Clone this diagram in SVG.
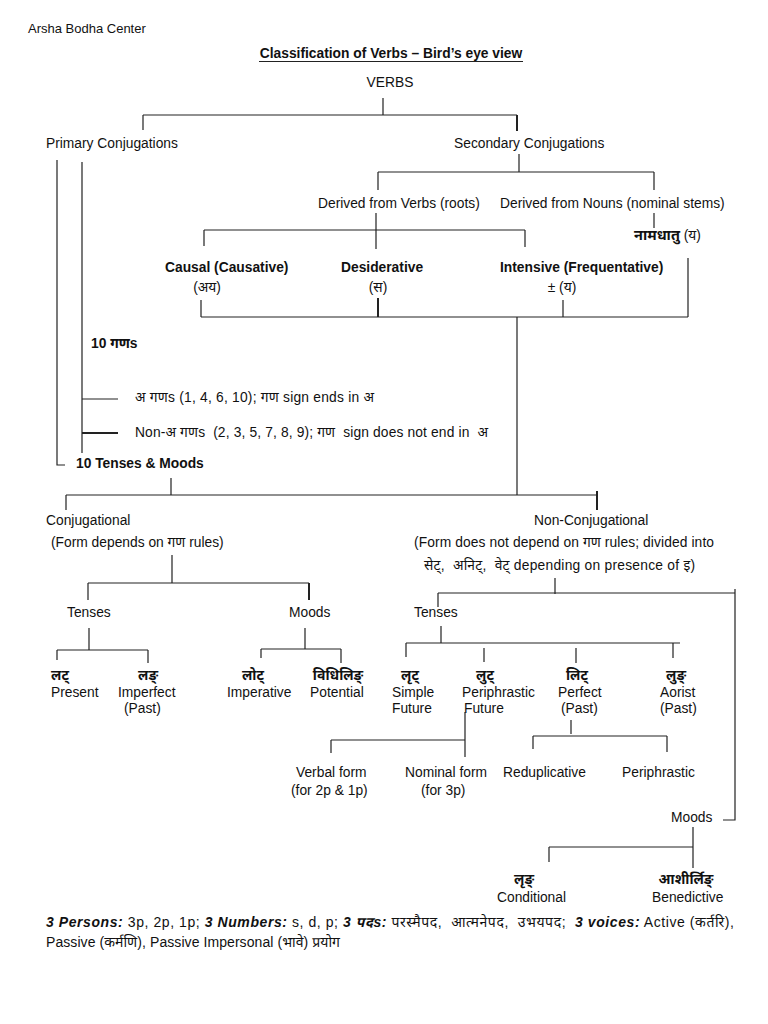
<svg xmlns="http://www.w3.org/2000/svg" width="768" height="1024" viewBox="0 0 768 1024">
<style>
text{font-family:"Liberation Sans","Noto Sans Devanagari","Noto Sans",sans-serif;font-size:13.8px;fill:#111;white-space:pre}
.b{font-weight:bold}
.bi{font-weight:bold;font-style:italic}
.m{text-anchor:middle}
.dv{font-weight:bold;font-size:14px;text-anchor:middle}
.ft{font-size:14px}
.ln{fill:none;stroke:#222;stroke-width:1.2}
.th{fill:none;stroke:#222;stroke-width:2}
</style>
<rect width="768" height="1024" fill="#fff"/>
<g id="header">
<text x="28" y="33" style="font-size:13px">Arsha Bodha Center</text>
<text x="391" y="58" class="b m">Classification of Verbs – Bird’s eye view</text>
<path class="ln" d="M259,61.5 H523"/>
</g>
<g id="connectors">
<path class="ln" d="M383,98 V115 M143,115 H517 M143,115 V130"/>
<path class="th" d="M517,115 V131"/>
<path class="ln" d="M519,154 V172 M378,172 H654 M378,172 V190 M654,172 V190"/>
<path class="ln" d="M376,213 V249 M204,230 H525 M204,230 V246 M525,230 V247"/>
<path class="ln" d="M654,213 V228"/>
<path class="ln" d="M201,317 H688 M201,300 V317 M563,300 V317 M688,258 V317 M517,317 V495"/>
<path class="th" d="M378,298 V317"/>
<path class="ln" d="M57,160 V465 H65 M82,162 V453 M82,399 H118"/>
<path class="th" d="M82,433 H118"/>
<path class="ln" d="M171,478 V495 M66,495 H597 M66,495 V510"/>
<path class="th" d="M597,491 V510"/>
<path class="ln" d="M172,555 V583 M88,583 H309 M88,583 V600"/>
<path class="th" d="M309,583 V600"/>
<path class="ln" d="M555,578 V594 M438,593 H735 M438,593 V607 M735,589 V820 H723"/>
<path class="ln" d="M89,628 V650 M57,650 H148 M57,650 V660 M148,650 V663"/>
<path class="ln" d="M305,628 V649 M261,649 H341 M261,649 V658 M341,649 V663"/>
<path class="ln" d="M441,626 V643 M406,643 H680 M406,643 V657 M484,648 V662 M576,648 V663 M673,643 V658"/>
<path class="ln" d="M465,712 V757 M331,740 H465 M331,740 V753"/>
<path class="ln" d="M571,720 V734 M533,736 H667 M533,736 V749 M667,736 V752"/>
<path class="ln" d="M693,827 V868 M549,847 H693 M549,847 V862"/>
</g>
<g id="verbs"><text x="390" y="87" class="m">VERBS</text></g>
<g id="primary"><text x="46" y="148">Primary Conjugations</text></g>
<g id="secondary"><text x="454" y="148">Secondary Conjugations</text></g>
<g id="derived-verbs"><text x="318" y="208">Derived from Verbs (roots)</text></g>
<g id="derived-nouns"><text x="500" y="208">Derived from Nouns (nominal stems)</text></g>
<g id="namadhatu"><text x="634" y="240"><tspan class="b" style="font-size:14.5px">नामधातु</tspan> (य)</text></g>
<g id="causal"><text x="165" y="272" class="b">Causal (Causative)</text><text x="207" y="292" class="m">(अय)</text></g>
<g id="desiderative"><text x="341" y="272" class="b">Desiderative</text><text x="378" y="292" class="m">(स)</text></g>
<g id="intensive"><text x="500" y="272" class="b">Intensive (Frequentative)</text><text x="562" y="292" class="m">± (य)</text></g>
<g id="ganas"><text x="91" y="348" class="b">10 गणs</text></g>
<g id="a-ganas"><text x="135" y="402" textLength="239" lengthAdjust="spacing">अ गणs (1, 4, 6, 10); गण sign ends in अ</text></g>
<g id="non-a-ganas"><text x="135" y="437" textLength="353" lengthAdjust="spacing">Non-अ गणs  (2, 3, 5, 7, 8, 9); गण  sign does not end in  अ</text></g>
<g id="tenses-moods"><text x="76" y="468" class="b">10 Tenses &amp; Moods</text></g>
<g id="conjugational"><text x="46" y="525">Conjugational</text><text x="51" y="547">(Form depends on गण rules)</text></g>
<g id="non-conjugational"><text x="534" y="525">Non-Conjugational</text><text x="414" y="547" textLength="300" lengthAdjust="spacing">(Form does not depend on गण rules; divided into</text><text x="424" y="570" textLength="271" lengthAdjust="spacing">सेट्,  अनिट्,  वेट् depending on presence of इ)</text></g>
<g id="conj-tenses"><text x="67" y="617">Tenses</text></g>
<g id="conj-moods"><text x="289" y="617">Moods</text></g>
<g id="nonconj-tenses"><text x="414" y="617">Tenses</text></g>
<g id="lat"><text x="60" y="680" class="dv">लट्</text><text x="51" y="697">Present</text></g>
<g id="lan"><text x="148" y="680" class="dv">लङ्</text><text x="118" y="697">Imperfect</text><text x="124" y="713">(Past)</text></g>
<g id="lot"><text x="253" y="680" class="dv">लोट्</text><text x="227" y="697">Imperative</text></g>
<g id="vidhilin"><text x="338" y="680" class="dv">विधिलिङ्</text><text x="310" y="697">Potential</text></g>
<g id="lrt"><text x="410" y="680" class="dv">लृट्</text><text x="392" y="697">Simple</text><text x="392" y="713">Future</text></g>
<g id="lut"><text x="485" y="680" class="dv">लुट्</text><text x="462" y="697">Periphrastic</text><text x="464" y="713">Future</text></g>
<g id="lit"><text x="577" y="680" class="dv">लिट्</text><text x="558" y="697">Perfect</text><text x="561" y="713">(Past)</text></g>
<g id="lun"><text x="676" y="680" class="dv">लुङ्</text><text x="660" y="697">Aorist</text><text x="660" y="713">(Past)</text></g>
<g id="verbal-form"><text x="296" y="777">Verbal form</text><text x="291" y="795">(for 2p &amp; 1p)</text></g>
<g id="nominal-form"><text x="405" y="777">Nominal form</text><text x="421" y="795">(for 3p)</text></g>
<g id="reduplicative"><text x="503" y="777">Reduplicative</text></g>
<g id="periphrastic"><text x="622" y="777">Periphrastic</text></g>
<g id="nonconj-moods"><text x="671" y="822">Moods</text></g>
<g id="lrn"><text x="524" y="884" class="dv">लृङ्</text><text x="497" y="902">Conditional</text></g>
<g id="ashirlin"><text x="686" y="884" class="dv">आशीर्लिङ्</text><text x="652" y="902">Benedictive</text></g>
<g id="footer">
<text x="46" y="927" class="ft" textLength="688" lengthAdjust="spacing"><tspan class="bi">3 Persons:</tspan> 3p, 2p, 1p; <tspan class="bi">3 Numbers:</tspan> s, d, p; <tspan class="bi">3 पदs:</tspan> परस्मैपद,  आत्मनेपद,  उभयपद;  <tspan class="bi">3 voices:</tspan> Active (कर्तरि),</text>
<text x="46" y="947" class="ft" textLength="294" lengthAdjust="spacing">Passive (कर्मणि), Passive Impersonal (भावे) प्रयोग</text>
</g>
</svg>
